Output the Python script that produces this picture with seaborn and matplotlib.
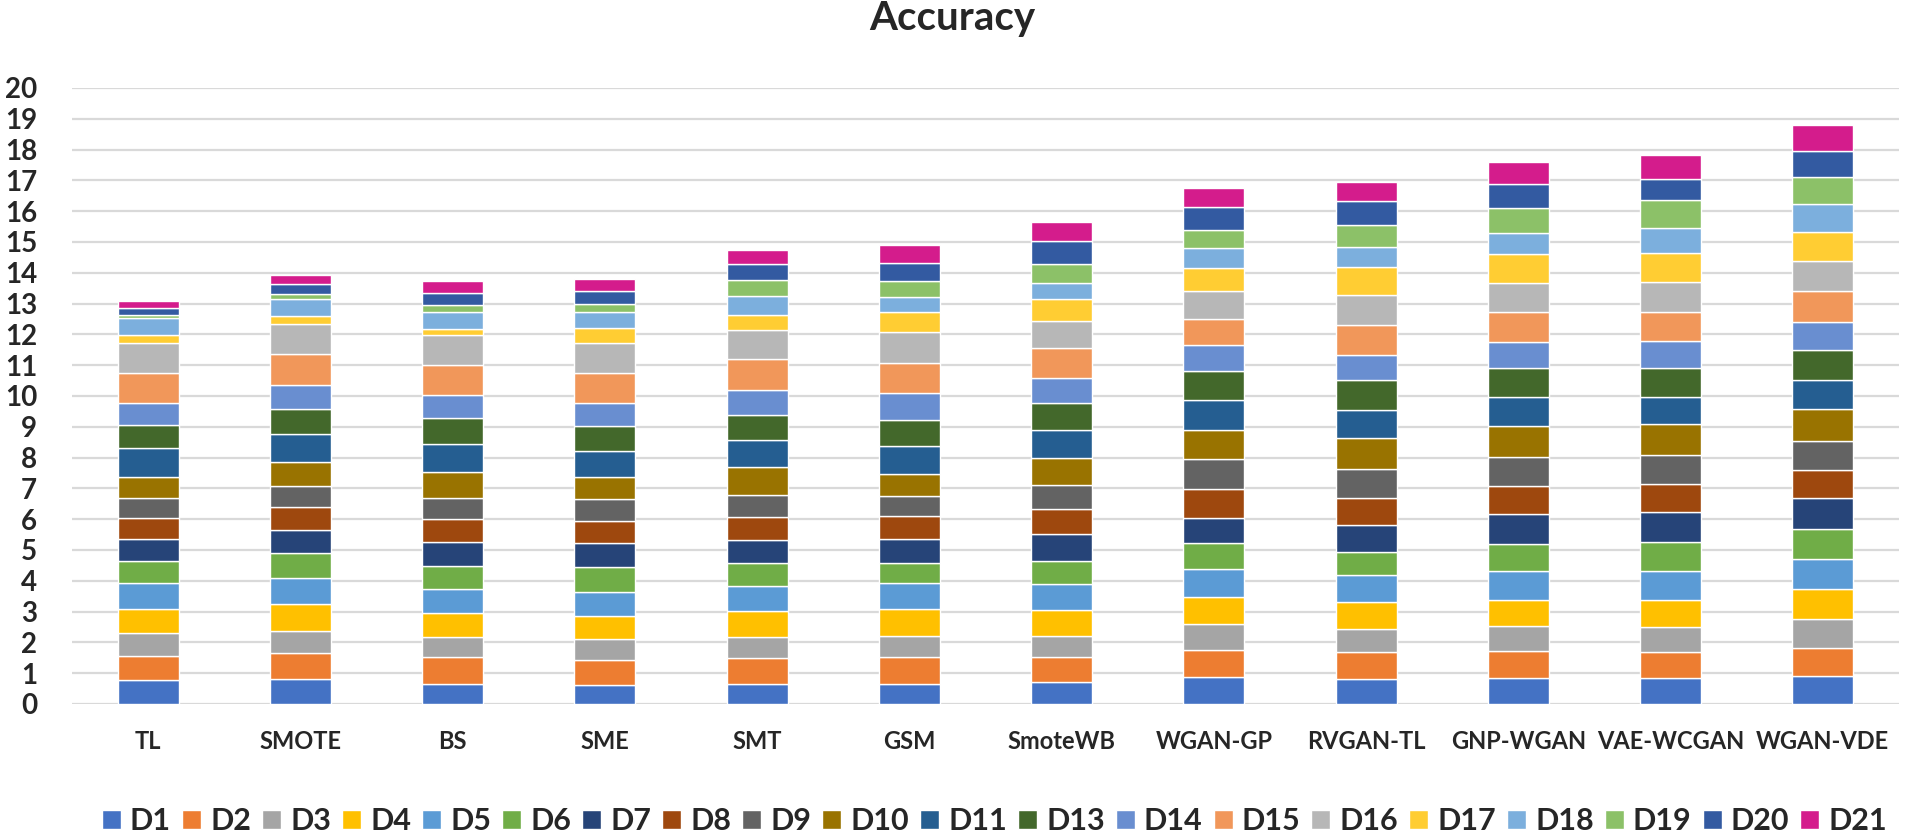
import matplotlib
matplotlib.use("Agg")
import matplotlib.pyplot as plt
from matplotlib.patches import Patch
import numpy as np
import seaborn as sns

methods = ["TL", "SMOTE", "BS", "SME", "SMT", "GSM", "SmoteWB", "WGAN-GP",
           "RVGAN-TL", "GNP-WGAN", "VAE-WCGAN", "WGAN-VDE"]

# one list per dataset, values per method (same order as methods)
D1 = [0.79, 0.80, 0.66, 0.60, 0.65, 0.66, 0.70, 0.87, 0.82, 0.84, 0.84, 0.92]
D2 = [0.78, 0.84, 0.87, 0.82, 0.85, 0.87, 0.83, 0.87, 0.86, 0.89, 0.85, 0.90]
D3 = [0.74, 0.74, 0.65, 0.69, 0.67, 0.69, 0.69, 0.84, 0.76, 0.79, 0.81, 0.94]
D4 = [0.78, 0.85, 0.78, 0.74, 0.86, 0.87, 0.82, 0.89, 0.86, 0.87, 0.87, 0.96]
D5 = [0.83, 0.85, 0.76, 0.78, 0.80, 0.84, 0.84, 0.91, 0.87, 0.94, 0.96, 0.99]
D6 = [0.72, 0.81, 0.77, 0.81, 0.73, 0.66, 0.75, 0.86, 0.75, 0.87, 0.93, 0.97]
D7 = [0.71, 0.76, 0.76, 0.78, 0.77, 0.78, 0.88, 0.81, 0.89, 0.97, 0.96, 1.00]
D8 = [0.68, 0.73, 0.75, 0.72, 0.75, 0.74, 0.81, 0.92, 0.88, 0.92, 0.92, 0.93]
D9 = [0.65, 0.70, 0.70, 0.70, 0.71, 0.65, 0.78, 0.98, 0.94, 0.92, 0.94, 0.94]
D10 = [0.70, 0.76, 0.84, 0.74, 0.89, 0.72, 0.88, 0.95, 0.99, 1.02, 1.01, 1.02]
D11 = [0.92, 0.94, 0.89, 0.83, 0.88, 0.90, 0.91, 0.96, 0.92, 0.92, 0.88, 0.95]
D13 = [0.75, 0.79, 0.86, 0.81, 0.82, 0.83, 0.89, 0.95, 0.97, 0.95, 0.95, 0.97]
D14 = [0.73, 0.80, 0.74, 0.76, 0.81, 0.88, 0.81, 0.84, 0.81, 0.84, 0.85, 0.92]
D15 = [0.97, 0.99, 0.97, 0.95, 1.00, 0.99, 0.98, 0.86, 0.98, 0.99, 0.97, 1.00]
D16 = [0.97, 0.99, 0.97, 0.99, 0.94, 1.00, 0.88, 0.90, 0.98, 0.95, 0.96, 0.97]
D17 = [0.25, 0.25, 0.19, 0.49, 0.50, 0.63, 0.69, 0.73, 0.91, 0.92, 0.93, 0.94]
D18 = [0.57, 0.56, 0.57, 0.50, 0.63, 0.50, 0.54, 0.65, 0.66, 0.68, 0.81, 0.90]
D19 = [0.08, 0.14, 0.22, 0.26, 0.49, 0.51, 0.59, 0.59, 0.70, 0.83, 0.91, 0.89]
D20 = [0.24, 0.33, 0.40, 0.44, 0.54, 0.59, 0.76, 0.76, 0.78, 0.78, 0.70, 0.86]
D21 = [0.23, 0.29, 0.37, 0.40, 0.45, 0.60, 0.61, 0.62, 0.63, 0.70, 0.79, 0.82]

series_names = ["D1", "D2", "D3", "D4", "D5", "D6", "D7", "D8", "D9", "D10", "D11",
                "D13", "D14", "D15", "D16", "D17", "D18", "D19", "D20", "D21"]
series = [D1, D2, D3, D4, D5, D6, D7, D8, D9, D10, D11,
          D13, D14, D15, D16, D17, D18, D19, D20, D21]

colors = ["#4472C4", "#ED7D31", "#A5A5A5", "#FFC000", "#5B9BD5", "#70AD47",
          "#264478", "#9E480E", "#636363", "#997300", "#255E91", "#43682B",
          "#698ED0", "#F1975A", "#B7B7B7", "#FFCD33", "#7CAFDD", "#8CC168",
          "#335AA1", "#D41C8C"]

sns.set_style("white")
plt.rcParams["font.family"] = ["Lato", "DejaVu Sans"]

fig = plt.figure(figsize=(19.05, 8.38), dpi=100)
ax = fig.add_axes([0.0378, 0.160, 0.959, 0.735])

bottom = np.zeros(len(methods))
for name, vals, col in zip(series_names, series, colors):
    sns.barplot(x=methods, y=vals, bottom=bottom, color=col, width=0.40,
                errorbar=None, saturation=1, ax=ax, zorder=3)
    bottom = bottom + np.array(vals)

ax.set_ylim(0, 20)
ax.set_xlim(-0.5, 11.5)
ax.set_yticks(range(0, 21))
ax.yaxis.grid(True, color="#D9D9D9", linewidth=1.6, zorder=0)
ax.set_axisbelow(True)
for s in ax.spines.values():
    s.set_visible(False)
ax.tick_params(axis="both", length=0)
ax.tick_params(axis="y", labelsize=20, pad=25)
ax.tick_params(axis="x", labelsize=17, pad=19)
for lab in ax.get_yticklabels() + ax.get_xticklabels():
    lab.set_fontweight("bold")
ax.set_xlabel("")
ax.set_ylabel("")

fig.text(0.5, 0.978, "Accuracy", ha="center", va="center",
         fontsize=29, fontweight="bold")

handles = [Patch(facecolor=c, label=n) for n, c in zip(series_names, colors)]
fig.legend(handles=handles, loc="center", ncol=20, frameon=False,
           bbox_to_anchor=(0.522, 0.02), prop={"size": 22, "weight": "bold"},
           handlelength=0.62, handleheight=0.62, handletextpad=0.3,
           columnspacing=0.36, borderaxespad=0)

fig.savefig("out.png", dpi=100)
